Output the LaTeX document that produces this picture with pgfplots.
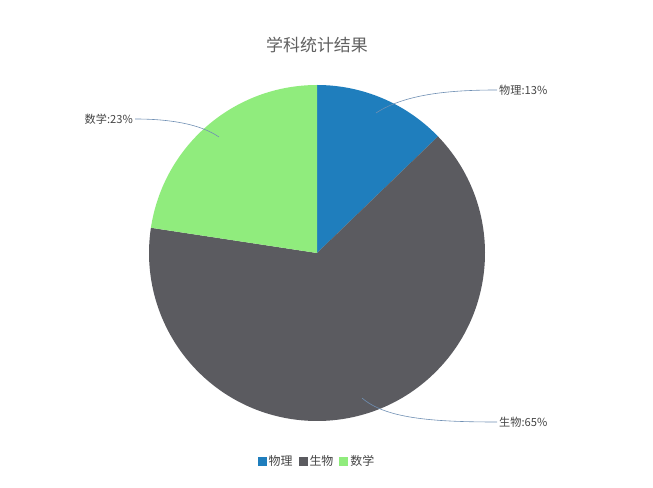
\documentclass[border=0pt]{standalone}
\usepackage{fontspec}
\setmainfont{Noto Sans CJK SC}
\usepackage{pgfplots}
\usepackage{pgfplotstable}
\pgfplotsset{compat=1.18}

\definecolor{wuli}{HTML}{1F7EBD}
\definecolor{shengwu}{HTML}{5B5B60}
\definecolor{shuxue}{HTML}{90EC7D}
\definecolor{leader}{HTML}{6F8FB3}
\definecolor{txt}{HTML}{444444}

% share of each subject, clockwise from 12 o'clock
\pgfplotstableread{
idx value col
0 12.8 wuli
1 64.6 shengwu
2 22.6 shuxue
}\pietable

\begin{document}
\begin{tikzpicture}
  \begin{axis}[
    width=653bp, height=488bp,
    scale only axis,
    xmin=0, xmax=653, ymin=0, ymax=488,
    hide axis,
    clip=false,
    legend style={at={(317/653,27/488)}, anchor=center, draw=none,
      legend columns=-1, font=\fontsize{12}{14}\selectfont\color{txt},
      /tikz/every odd column/.append style={column sep=0bp},
      /tikz/every even column/.append style={column sep=4bp}},
    legend image code/.code={\fill[#1, draw=none] (0bp,-4.5bp) rectangle (9bp,4.5bp);},
  ]
  % keep the full canvas as bounding box
  \path (axis cs:0,0) rectangle (axis cs:653,488);
  \def\cum{0}
  \pgfplotsforeachungrouped \i in {0,1,2}{
    \pgfplotstablegetelem{\i}{value}\of\pietable \let\v\pgfplotsretval
    \pgfplotstablegetelem{\i}{col}\of\pietable \let\c\pgfplotsretval
    \pgfmathsetmacro\a{90-3.6*\cum}
    \pgfmathsetmacro\b{90-3.6*(\cum+\v)}
    \pgfmathsetmacro\cum{\cum+\v}
    \edef\doit{\noexpand\fill[\c] (axis cs:317,235) -- ++(\a:168bp)
      arc[start angle=\a, end angle=\b, radius=168bp] -- cycle;}
    \doit
  }
  \addlegendimage{fill=wuli}\addlegendentry{物理}
  \addlegendimage{fill=shengwu}\addlegendentry{生物}
  \addlegendimage{fill=shuxue}\addlegendentry{数学}

  % leader lines and labels
  \draw[leader, line width=0.6pt] (axis cs:376,375) .. controls (axis cs:405,394) and (axis cs:450,398) .. (axis cs:497,398);
  \node[anchor=west, inner sep=1bp, font=\fontsize{11.2}{13}\selectfont, text=txt] at (axis cs:498,398) {物理:13\%};
  \draw[leader, line width=0.6pt] (axis cs:219,351) .. controls (axis cs:200,364) and (axis cs:170,369) .. (axis cs:135,369);
  \node[anchor=east, inner sep=1bp, font=\fontsize{11.2}{13}\selectfont, text=txt] at (axis cs:134,369) {数学:23\%};
  \draw[leader, line width=0.6pt] (axis cs:362,90) .. controls (axis cs:385,70) and (axis cs:430,66) .. (axis cs:497,66);
  \node[anchor=west, inner sep=1bp, font=\fontsize{11.2}{13}\selectfont, text=txt] at (axis cs:498,66) {生物:65\%};

  \node[font=\fontsize{17}{20}\selectfont, text=txt!85] at (axis cs:317,443) {学科统计结果};
  \end{axis}
\end{tikzpicture}
\end{document}
